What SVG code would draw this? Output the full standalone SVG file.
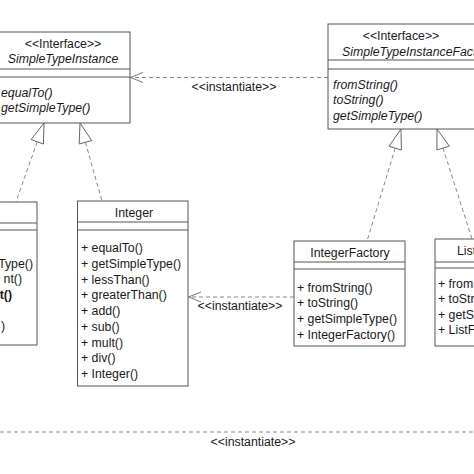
<svg xmlns="http://www.w3.org/2000/svg" width="474" height="474" viewBox="0 0 474 474">
<style>
text{font-family:"Liberation Sans",Arial,sans-serif;font-size:12.3px;fill:#1a1a1a}
.it{font-style:italic}
.box{fill:#fff;stroke:#555;stroke-width:1}
.div{stroke:#555;stroke-width:1}
.dash{fill:none;stroke:#888;stroke-width:1;stroke-dasharray:4 3}
.head{fill:none;stroke:#777;stroke-width:1}
.tri{fill:#fff;stroke:#666;stroke-width:1}
</style>
<rect width="474" height="474" fill="#fff"/>
<g id="connectors">
<line class="dash" x1="328" y1="77.5" x2="131" y2="77.5"/>
<polyline class="head" points="143,72.5 130.5,77.5 143,82.5"/>
<text x="234" y="91" text-anchor="middle">&lt;&lt;instantiate&gt;&gt;</text>
<line class="dash" x1="294" y1="297" x2="189" y2="297"/>
<polyline class="head" points="201,292 188.5,297 201,302"/>
<text x="240" y="310" text-anchor="middle">&lt;&lt;instantiate&gt;&gt;</text>
<line class="dash" x1="0" y1="432" x2="474" y2="432" stroke="#999"/>
<text x="253" y="446" text-anchor="middle">&lt;&lt;instantiate&gt;&gt;</text>
<line class="dash" x1="37.2" y1="141.8" x2="16" y2="202"/>
<polygon class="tri" points="44,123 31.1,139.6 43.4,144"/>
<line class="dash" x1="85.4" y1="142.3" x2="102" y2="201"/>
<polygon class="tri" points="80,123 79.2,144 91.7,140.5"/>
<line class="dash" x1="395.2" y1="148.1" x2="367" y2="241"/>
<polygon class="tri" points="401,129 389,146.3 401.4,150"/>
<line class="dash" x1="443" y1="148" x2="472" y2="239"/>
<polygon class="tri" points="437,129 436.9,150 449.3,146.1"/>
</g>
<g id="SimpleTypeInstance">
<rect class="box" x="-5" y="32" width="135" height="91"/>
<line class="div" x1="-5" y1="69" x2="130" y2="69"/>
<line class="div" x1="-5" y1="77" x2="130" y2="77"/>
<text x="63" y="48" text-anchor="middle">&lt;&lt;Interface&gt;&gt;</text>
<text class="it" x="63" y="63" text-anchor="middle">SimpleTypeInstance</text>
<text class="it" x="1" y="97">equalTo()</text>
<text class="it" x="1" y="112">getSimpleType()</text>
</g>
<g id="SimpleTypeInstanceFactory">
<rect class="box" x="328" y="24" width="170" height="105"/>
<line class="div" x1="328" y1="60" x2="498" y2="60"/>
<line class="div" x1="328" y1="69" x2="498" y2="69"/>
<text x="401" y="40" text-anchor="middle">&lt;&lt;Interface&gt;&gt;</text>
<text class="it" x="342" y="56">SimpleTypeInstanceFactory</text>
<text class="it" x="333" y="89">fromString()</text>
<text class="it" x="333" y="104">toString()</text>
<text class="it" x="333" y="120">getSimpleType()</text>
</g>
<g id="LeftClass">
<rect class="box" x="-80" y="202" width="117" height="143"/>
<line class="div" x1="-80" y1="223" x2="37" y2="223"/>
<line class="div" x1="-80" y1="230" x2="37" y2="230"/>
<text x="33" y="268" text-anchor="end">Type()</text>
<text x="22" y="283" text-anchor="end">nt()</text>
<text x="12" y="299" text-anchor="end" font-weight="bold">t()</text>
<text x="5" y="330" text-anchor="end">)</text>
</g>
<g id="Integer">
<rect class="box" x="77.5" y="201" width="110.5" height="185"/>
<line class="div" x1="77.5" y1="222" x2="188" y2="222"/>
<line class="div" x1="77.5" y1="230" x2="188" y2="230"/>
<text x="134" y="217" text-anchor="middle">Integer</text>
<text x="81" y="252">+ equalTo()</text>
<text x="81" y="268">+ getSimpleType()</text>
<text x="81" y="284">+ lessThan()</text>
<text x="81" y="299">+ greaterThan()</text>
<text x="81" y="315">+ add()</text>
<text x="81" y="331">+ sub()</text>
<text x="81" y="347">+ mult()</text>
<text x="81" y="362">+ div()</text>
<text x="81" y="378">+ Integer()</text>
</g>
<g id="IntegerFactory">
<rect class="box" x="294" y="241" width="111" height="105"/>
<line class="div" x1="294" y1="262" x2="405" y2="262"/>
<line class="div" x1="294" y1="269" x2="405" y2="269"/>
<text x="350" y="257" text-anchor="middle">IntegerFactory</text>
<text x="297" y="292">+ fromString()</text>
<text x="297" y="307">+ toString()</text>
<text x="297" y="323">+ getSimpleType()</text>
<text x="297" y="339">+ IntegerFactory()</text>
</g>
<g id="ListFactory">
<rect class="box" x="435" y="239" width="105" height="107"/>
<line class="div" x1="435" y1="262" x2="540" y2="262"/>
<line class="div" x1="435" y1="268" x2="540" y2="268"/>
<text x="487" y="255" text-anchor="middle">ListFactory</text>
<text x="438" y="288">+ fromString()</text>
<text x="438" y="303">+ toString()</text>
<text x="438" y="319">+ getSimpleType()</text>
<text x="438" y="334">+ ListFactory()</text>
</g>
</svg>
